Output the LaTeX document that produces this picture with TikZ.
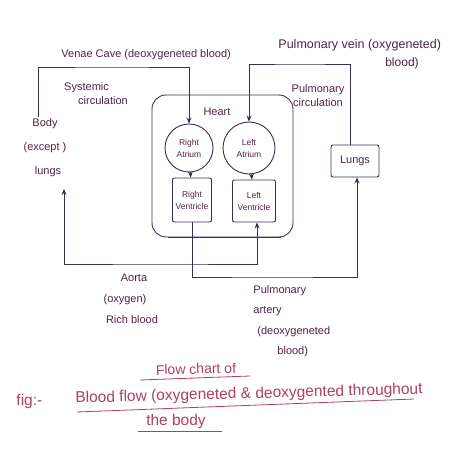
\documentclass[tikz,border=0pt]{standalone}
\usepackage{fontspec}
\setmainfont{Liberation Sans}
\usetikzlibrary{arrows.meta,calc}
\definecolor{ink}{HTML}{3A2E5C}
\definecolor{txt}{HTML}{4E2545}
\definecolor{capc}{HTML}{B0405E}
\begin{document}
\begin{tikzpicture}[x=1pt,y=-1pt,line width=0.9pt,
  lbl/.style={text=txt,font=\fontsize{11}{14}\selectfont,inner sep=1pt,align=center},
  small/.style={text=txt,font=\fontsize{8.5}{12}\selectfont,inner sep=1pt,align=center},
  heartbox/.style={draw=ink,rounded corners=14pt,minimum width=141pt,minimum height=142pt},
  atrium/.style={draw=ink,circle,inner sep=0pt,small},
  ventbox/.style={draw=ink,rounded corners=2pt,inner sep=0pt,small},
  flow/.style={draw=ink,-{Stealth[length=6pt,width=5pt]}},
  twoway/.style={draw=ink,{Stealth[length=6pt,width=5pt]}-{Stealth[length=6pt,width=5pt]}},
  captxt/.style={text=capc,font=\fontsize{15.5}{18}\selectfont,inner sep=1pt},
  capline/.style={draw=capc,line width=0.8pt}]
\fill[white] (0,0) rectangle (474,460);
\useasboundingbox (0,0) rectangle (474,460);
% heart
\node[heartbox] (heart) at (222.5,166) {};
\draw[ink,line width=1.8pt] ([xshift=16pt]heart.south west) -- ([xshift=-12pt]heart.south east);
\node[lbl] (heartlbl) at (217,112) {Heart};
\node[atrium,minimum size=48pt] (ra) at (189,148) {Right\\Atrium};
\node[atrium,minimum size=52pt] (la) at (249,148) {Left\\Atrium};
\node[ventbox,minimum width=39pt,minimum height=44pt] (rv) at (192,200) {Right\\Ventricle};
\node[ventbox,minimum width=43pt,minimum height=42pt] (lv) at (254,201) {Left\\Ventricle};
\node[ventbox,minimum width=48pt,minimum height=32pt,font=\fontsize{11}{12}\selectfont] (lungs) at (355,161) {Lungs};
\node[lbl,font=\fontsize{11}{24}\selectfont] (body) at (45,148) {Body\\(except )\\\hspace*{6pt}lungs};
% labels
\node[lbl,anchor=west] (venae) at (60,55) {Venae Cave (deoxygeneted blood)};
\node[lbl,align=left] (sys) at (96,94) {Systemic\\\hspace*{14pt}circulation};
\node[lbl,anchor=west,font=\fontsize{12.5}{14}\selectfont] (pvlbl) at (277,45) {Pulmonary vein (oxygeneted)};
\node[lbl,font=\fontsize{12}{14}\selectfont] (pvlbl2) at (402,63) {blood)};
\node[lbl] (pulc) at (318,96) {Pulmonary\\circulation};
\node[lbl,font=\fontsize{11}{21}\selectfont] (aorta) at (125,299) {\hspace*{18pt}Aorta\\(oxygen)\\\hspace*{14pt}Rich blood};
\node[lbl,anchor=north west,align=left,font=\fontsize{11}{20.5}\selectfont] (palbl) at (252,284) {Pulmonary\\artery\\\hspace*{4pt}(deoxygeneted\\\hspace*{24pt}blood)};
% connectors
\coordinate (vc) at (110,67);
\coordinate (pv) at (300,64);
\coordinate (ao) at (160,264);
\coordinate (pa) at (270,277);
\coordinate (bodyin) at (64,189);
\draw[flow] ([xshift=-7pt]body.north) |- (vc) -| (ra.north);
\draw[flow] ([xshift=-5pt]lungs.north) |- (pv) -| (la.north);
\draw[flow] (ra) -- (rv);
\draw[flow] (la) -- (lv);
\draw[twoway] (bodyin) |- (ao) -| ([xshift=3pt]lv.south);
\draw[flow] (rv.south) |- (pa) -| ([xshift=2pt]lungs.south);
% caption
\node[captxt,anchor=west] (fig) at (15,401) {fig:-};
\node[captxt,rotate=1.5,font=\fontsize{14}{16}\selectfont] (cap0) at (196,369) {Flow chart of};
\node[captxt,anchor=west,rotate=1.5] (cap1) at (74,399) {Blood flow (oxygeneted \& deoxygented throughout};
\node[captxt] (cap2) at (176,421) {the body};
\draw[capline] (140,380) -- (250,376);
\draw[capline] (77,412) -- (414,399);
\draw[capline] (138,431) -- (222,431);
\end{tikzpicture}
\end{document}
